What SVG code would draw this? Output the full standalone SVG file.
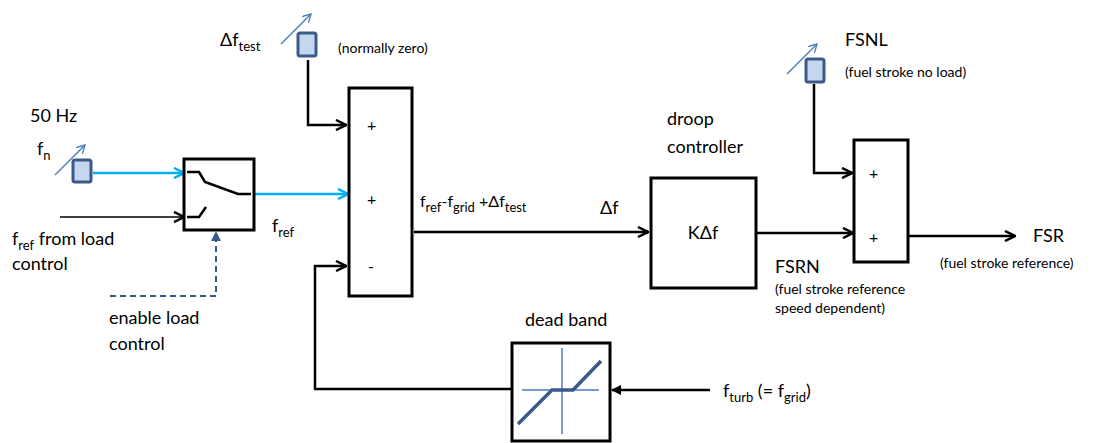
<svg xmlns="http://www.w3.org/2000/svg" width="1105" height="443" viewBox="0 0 1105 443">
<style>
text{font-family:Lato,"Open Sans",sans-serif;fill:#000;font-size:18px}
.s{font-size:14px}.sub{font-size:13px}.p{font-size:16px}
.blk{fill:#fff;stroke:#000;stroke-width:3}
.ln{fill:none;stroke:#000;stroke-width:2.5}
.bl{fill:none;stroke:#00b0f0;stroke-width:2.5}
.knob{fill:#c5d7ef;stroke:#3a5a8a;stroke-width:3}
.ka{stroke:#4a7ebb;stroke-width:1.5;fill:none}
</style>
<defs>
<marker id="a" viewBox="0 0 12 12" refX="11" refY="6" markerWidth="12" markerHeight="12" markerUnits="userSpaceOnUse" orient="auto"><polyline points="1,1 11,6 1,11" fill="none" stroke="#000" stroke-width="2.5"/></marker>
<marker id="ab" viewBox="0 0 12 12" refX="11" refY="6" markerWidth="12" markerHeight="12" markerUnits="userSpaceOnUse" orient="auto"><polyline points="1,1 11,6 1,11" fill="none" stroke="#00b0f0" stroke-width="2.5"/></marker>
<marker id="f" viewBox="0 0 10 10" refX="9" refY="5" markerWidth="10" markerHeight="10" markerUnits="userSpaceOnUse" orient="auto"><path d="M0,0L10,5L0,10z" fill="#000"/></marker>
<marker id="fd" viewBox="0 0 10 10" refX="9" refY="5" markerWidth="10" markerHeight="10" markerUnits="userSpaceOnUse" orient="auto"><path d="M0,0L10,5L0,10z" fill="#3a5a8a"/></marker>
<marker id="k" viewBox="0 0 10 10" refX="9" refY="5" markerWidth="9" markerHeight="9" markerUnits="userSpaceOnUse" orient="auto"><polyline points="0,0 9,5 0,10" fill="none" stroke="#4a7ebb" stroke-width="1.5"/></marker>
</defs>
<g id="connectors">
<polyline class="ln" points="308,60 308,125 346,125" marker-end="url(#a)"/>
<line class="bl" x1="93" y1="173" x2="184" y2="173" marker-end="url(#ab)"/>
<line x1="60" y1="217" x2="184" y2="217" stroke="#000" stroke-width="1.5" marker-end="url(#a)"/>
<line class="bl" x1="255" y1="194" x2="348" y2="194" marker-end="url(#ab)"/>
<polyline points="110,296 216,296 216,232" fill="none" stroke="#3a5a8a" stroke-width="2" stroke-dasharray="6,4" marker-end="url(#fd)"/>
<line class="ln" x1="414" y1="232" x2="648" y2="232" marker-end="url(#a)"/>
<polyline class="ln" points="814,84 814,173 852,173" marker-end="url(#a)"/>
<line class="ln" x1="757" y1="233" x2="853" y2="233" marker-end="url(#a)"/>
<line class="ln" x1="909" y1="236" x2="1015" y2="236" marker-end="url(#a)"/>
<line class="ln" x1="710" y1="390" x2="612" y2="390" marker-end="url(#f)"/>
<polyline class="ln" points="511,389 315,389 315,266 346,266" marker-end="url(#a)"/>
</g>
<g id="dftest">
<rect class="knob" x="298" y="33" width="18" height="23" rx="2"/>
<line class="ka" x1="281" y1="44" x2="311" y2="14" marker-end="url(#k)"/>
<text x="220" y="46">Δf<tspan class="sub" dy="5">test</tspan></text>
<text class="s" x="338" y="53">(normally zero)</text>
</g>
<g id="fn">
<text x="30" y="122">50 Hz</text>
<text x="37" y="155">f<tspan class="sub" dy="5">n</tspan></text>
<rect class="knob" x="73" y="160" width="18" height="22" rx="2"/>
<line class="ka" x1="55" y1="175" x2="85" y2="145" marker-end="url(#k)"/>
</g>
<g id="switch">
<rect class="blk" x="184" y="159" width="70" height="71"/>
<polyline class="ln" points="187,172 199,172 205,182 238,194 251,194"/>
<polyline class="ln" points="187,217 199,217 206,207"/>
<text x="272" y="232">f<tspan class="sub" dy="5">ref</tspan></text>
<text x="12" y="245">f<tspan class="sub" dy="5">ref</tspan><tspan dy="-5"> from load</tspan></text>
<text x="12" y="270">control</text>
<text x="109" y="324">enable load</text>
<text x="109" y="350">control</text>
</g>
<g id="sum1">
<rect class="blk" x="349" y="88" width="63" height="208"/>
<text class="p" x="367" y="131">+</text>
<text class="p" x="367" y="205">+</text>
<text class="p" x="368" y="272">-</text>
<text x="420" y="207" style="font-size:16px">f<tspan class="sub" dy="5">ref</tspan><tspan dy="-5">-f</tspan><tspan class="sub" dy="5">grid</tspan><tspan dy="-5"> +Δf</tspan><tspan class="sub" dy="5">test</tspan></text>
<text x="600" y="214">Δf</text>
</g>
<g id="droop">
<rect class="blk" x="651" y="178" width="105" height="110"/>
<text x="703" y="239" text-anchor="middle">KΔf</text>
<text x="667" y="125">droop</text>
<text x="667" y="153">controller</text>
</g>
<g id="fsnl">
<rect class="knob" x="806" y="59" width="18" height="23" rx="2"/>
<line class="ka" x1="787" y1="74" x2="817" y2="44" marker-end="url(#k)"/>
<text x="845" y="46">FSNL</text>
<text class="s" x="845" y="77">(fuel stroke no load)</text>
</g>
<g id="sum2">
<rect class="blk" x="854" y="140" width="54" height="122"/>
<text class="p" x="869" y="179">+</text>
<text class="p" x="869" y="243">+</text>
<text x="775" y="273">FSRN</text>
<text class="s" x="775" y="294">(fuel stroke reference</text>
<text class="s" x="775" y="313">speed dependent)</text>
<text x="1033" y="242">FSR</text>
<text class="s" x="940" y="268">(fuel stroke reference)</text>
</g>
<g id="deadband">
<rect class="blk" x="512" y="343" width="98" height="98"/>
<line x1="522" y1="390" x2="599" y2="390" stroke="#4a7ebb" stroke-width="1.5"/>
<line x1="562" y1="348" x2="562" y2="434" stroke="#4a7ebb" stroke-width="1.5"/>
<polyline points="518,424 552,390 573,390 601,361" fill="none" stroke="#3a5a8a" stroke-width="3.5"/>
<text x="525" y="326">dead band</text>
<text x="723" y="397">f<tspan class="sub" dy="5">turb</tspan><tspan dy="-5"> (= f</tspan><tspan class="sub" dy="5">grid</tspan><tspan dy="-5">)</tspan></text>
</g>
</svg>
